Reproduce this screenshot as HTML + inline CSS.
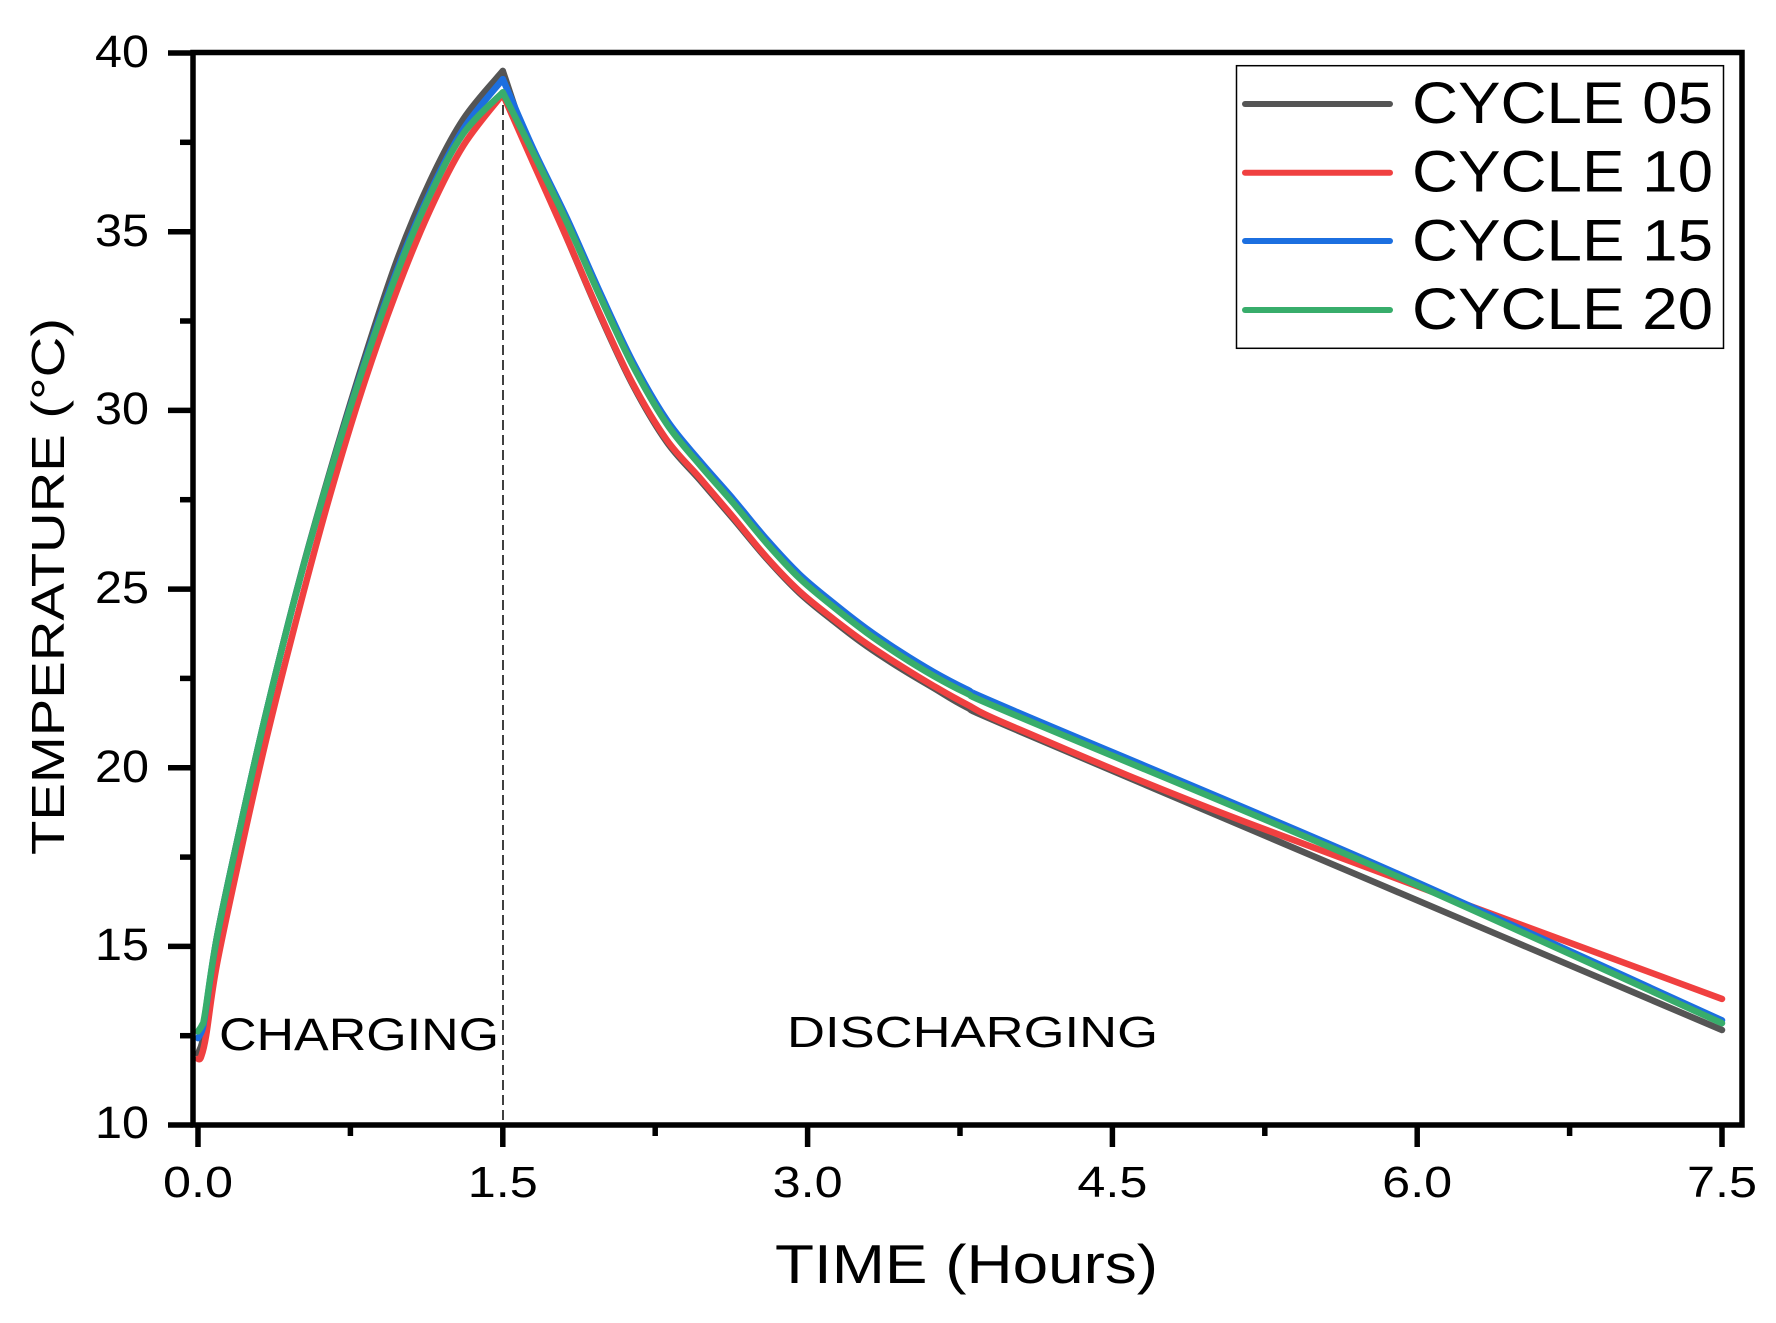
<!DOCTYPE html>
<html>
<head>
<meta charset="utf-8">
<style>
html,body{margin:0;padding:0;background:#fff;}
svg{display:block;}
text{font-family:"Liberation Sans",Arial,sans-serif;fill:#000;}
</style>
</head>
<body>
<svg id="chart" width="1776" height="1323" viewBox="0 0 1776 1323" xmlns="http://www.w3.org/2000/svg">
<rect width="1776" height="1323" fill="#fff"/>

<!-- dashed divider -->
<line x1="503" y1="75" x2="503" y2="1125" stroke="#000" stroke-width="1.5" stroke-dasharray="10,5"/>

<!-- series -->
<g id="series" fill="none" stroke-width="6.5" stroke-linejoin="round" stroke-linecap="round">
<polyline class="s" stroke="#555555" points="198,1053.5 202.1,1042.8 206.1,1017.8 216.7,938.5 240.1,827.7 266.7,710.5 300.0,578.0 330.1,471 362.6,364 396.7,261 430.1,181 463.4,119 502.8,71"/>
<polyline class="s" stroke="#555555" points="502.8,71 533.3,160 566.8,238 600.3,316 632.8,385 666.8,442 699.9,480 733.4,519 767.0,559 799.5,593 833.4,621 866.5,646 900.1,668 933.6,688 966.1,707 1016.9,730.2 1369.4,880 1722,1030"/>
<polyline class="s" stroke="#F04040" points="198,1058.9 201,1057 206.1,1035.7 216.7,965.5 240.1,854.7 266.7,737.5 300.0,605.7 330.1,494.9 362.6,388 396.7,290.9 430.1,209.9 463.4,145.5 502.8,94.2"/>
<polyline class="s" stroke="#F04040" points="502.8,94.2 533.3,163 566.8,238 600.3,315 632.8,383.7 666.8,440 699.9,478 733.4,517.3 767.0,557.7 799.5,591.3 833.4,618.9 866.5,643.6 900.1,665.5 933.6,685.9 966.1,704 1016.9,728.4 1244.5,821.7 1722,998.9"/>
<polyline class="s" stroke="#1C6FE0" points="198,1038.1 202.1,1030.3 204.9,1016 216.7,938.5 240.1,827.7 266.7,710.5 300.0,578.7 330.1,472.9 362.6,368.5 396.7,271 430.1,192 463.4,129 502.8,79.2"/>
<polyline class="s" stroke="#1C6FE0" points="502.8,79.2 533.3,149 566.8,218 600.3,293 632.8,361.7 666.8,420 699.9,461 733.4,499.3 767.0,539.7 799.5,574.3 833.4,602.9 866.5,628.6 900.1,651.5 933.6,671.9 966.1,689 1016.9,712 1369.4,861.3 1722,1020.3"/>
<polyline class="s" stroke="#38AD6B" points="198,1031.4 202.1,1025.0 204.9,1014.2 216.7,938.5 240.1,827.7 266.7,710.5 300.0,578.7 330.1,472.9 362.6,370.0 396.7,273.9 430.1,194.9 463.4,133.5 502.8,92.4"/>
<polyline class="s" stroke="#38AD6B" points="502.8,92.4 533.3,153.1 566.8,222.1 600.3,297.1 632.8,365.7 666.8,424 699.9,465 733.4,503.3 767.0,543.7 799.5,578.3 833.4,606.9 866.5,632.6 900.1,655.5 933.6,675.9 966.1,693.0 1016.9,715.9 1369.4,864.2 1722,1023.2"/>
</g>

<!-- frame -->
<rect x="193" y="52.5" width="1549" height="1072.5" fill="none" stroke="#000" stroke-width="5.5"/>

<!-- y ticks -->
<g stroke="#000" stroke-width="5.5">
<line x1="168" y1="53" x2="193" y2="53"/>
<line x1="168" y1="231.7" x2="193" y2="231.7"/>
<line x1="168" y1="410.4" x2="193" y2="410.4"/>
<line x1="168" y1="589.1" x2="193" y2="589.1"/>
<line x1="168" y1="767.7" x2="193" y2="767.7"/>
<line x1="168" y1="946.4" x2="193" y2="946.4"/>
<line x1="168" y1="1125" x2="193" y2="1125"/>
<line x1="180" y1="142.3" x2="193" y2="142.3"/>
<line x1="180" y1="321" x2="193" y2="321"/>
<line x1="180" y1="499.7" x2="193" y2="499.7"/>
<line x1="180" y1="678.4" x2="193" y2="678.4"/>
<line x1="180" y1="857.1" x2="193" y2="857.1"/>
<line x1="180" y1="1035.7" x2="193" y2="1035.7"/>
</g>

<!-- x ticks -->
<g stroke="#000" stroke-width="5.5">
<line x1="198" y1="1125" x2="198" y2="1147"/>
<line x1="502.8" y1="1125" x2="502.8" y2="1147"/>
<line x1="807.6" y1="1125" x2="807.6" y2="1147"/>
<line x1="1112.4" y1="1125" x2="1112.4" y2="1147"/>
<line x1="1417.2" y1="1125" x2="1417.2" y2="1147"/>
<line x1="1722" y1="1125" x2="1722" y2="1147"/>
<line x1="350.4" y1="1125" x2="350.4" y2="1136"/>
<line x1="655.2" y1="1125" x2="655.2" y2="1136"/>
<line x1="960" y1="1125" x2="960" y2="1136"/>
<line x1="1264.8" y1="1125" x2="1264.8" y2="1136"/>
<line x1="1569.6" y1="1125" x2="1569.6" y2="1136"/>
</g>

<!-- y tick labels -->
<g font-size="45">
<text x="95" y="67" textLength="54" lengthAdjust="spacingAndGlyphs">40</text>
<text x="95" y="246" textLength="54" lengthAdjust="spacingAndGlyphs">35</text>
<text x="95" y="424" textLength="54" lengthAdjust="spacingAndGlyphs">30</text>
<text x="95" y="603" textLength="54" lengthAdjust="spacingAndGlyphs">25</text>
<text x="95" y="782" textLength="54" lengthAdjust="spacingAndGlyphs">20</text>
<text x="95" y="960" textLength="54" lengthAdjust="spacingAndGlyphs">15</text>
<text x="95" y="1138" textLength="54" lengthAdjust="spacingAndGlyphs">10</text>
</g>

<!-- x tick labels -->
<g font-size="44">
<text x="163" y="1197" textLength="70" lengthAdjust="spacingAndGlyphs">0.0</text>
<text x="467.8" y="1197" textLength="70" lengthAdjust="spacingAndGlyphs">1.5</text>
<text x="772.6" y="1197" textLength="70" lengthAdjust="spacingAndGlyphs">3.0</text>
<text x="1077.4" y="1197" textLength="70" lengthAdjust="spacingAndGlyphs">4.5</text>
<text x="1382.2" y="1197" textLength="70" lengthAdjust="spacingAndGlyphs">6.0</text>
<text x="1687" y="1197" textLength="70" lengthAdjust="spacingAndGlyphs">7.5</text>
</g>

<!-- axis titles -->
<text x="775" y="1283" font-size="55" textLength="383" lengthAdjust="spacingAndGlyphs">TIME (Hours)</text>
<text transform="translate(64,855) rotate(-90)" x="0" y="0" font-size="46" textLength="537" lengthAdjust="spacingAndGlyphs">TEMPERATURE (°C)</text>

<!-- annotations -->
<text x="219" y="1050" font-size="45" textLength="280" lengthAdjust="spacingAndGlyphs">CHARGING</text>
<text x="787" y="1047" font-size="44" textLength="371" lengthAdjust="spacingAndGlyphs">DISCHARGING</text>

<!-- legend -->
<rect x="1236.5" y="65.7" width="487" height="282.6" fill="#fff" stroke="#000" stroke-width="1.5"/>
<g stroke-width="6" stroke-linecap="round">
<line x1="1245" y1="104" x2="1390" y2="104" stroke="#555555"/>
<line x1="1245" y1="172.7" x2="1390" y2="172.7" stroke="#F04040"/>
<line x1="1245" y1="241" x2="1390" y2="241" stroke="#1C6FE0"/>
<line x1="1245" y1="310" x2="1390" y2="310" stroke="#38AD6B"/>
</g>
<g font-size="58">
<text x="1412" y="123" textLength="301" lengthAdjust="spacingAndGlyphs">CYCLE 05</text>
<text x="1412" y="191.7" textLength="301" lengthAdjust="spacingAndGlyphs">CYCLE 10</text>
<text x="1412" y="260.4" textLength="301" lengthAdjust="spacingAndGlyphs">CYCLE 15</text>
<text x="1412" y="329.2" textLength="301" lengthAdjust="spacingAndGlyphs">CYCLE 20</text>
</g>
</svg>
<script>
(function(){
  var NS="http://www.w3.org/2000/svg";
  var pls=document.querySelectorAll("polyline.s");
  for(var k=0;k<pls.length;k++){
    var pl=pls[k];
    var raw=pl.getAttribute("points").trim().split(/\s+/);
    var p=[];
    for(var i=0;i<raw.length;i++){var c=raw[i].split(",");p.push([parseFloat(c[0]),parseFloat(c[1])]);}
    var d="M"+p[0][0]+","+p[0][1];
    for(var i=0;i<p.length-1;i++){
      var p0=p[i>0?i-1:i],p1=p[i],p2=p[i+1],p3=p[i+2<p.length?i+2:i+1];
      var c1x=p1[0]+(p2[0]-p0[0])/6,c1y=p1[1]+(p2[1]-p0[1])/6;
      var c2x=p2[0]-(p3[0]-p1[0])/6,c2y=p2[1]-(p3[1]-p1[1])/6;
      d+=" C"+c1x.toFixed(2)+","+c1y.toFixed(2)+" "+c2x.toFixed(2)+","+c2y.toFixed(2)+" "+p2[0]+","+p2[1];
    }
    var path=document.createElementNS(NS,"path");
    path.setAttribute("d",d);
    path.setAttribute("stroke",pl.getAttribute("stroke"));
    pl.parentNode.replaceChild(path,pl);
  }
})();
</script>
</body>
</html>
